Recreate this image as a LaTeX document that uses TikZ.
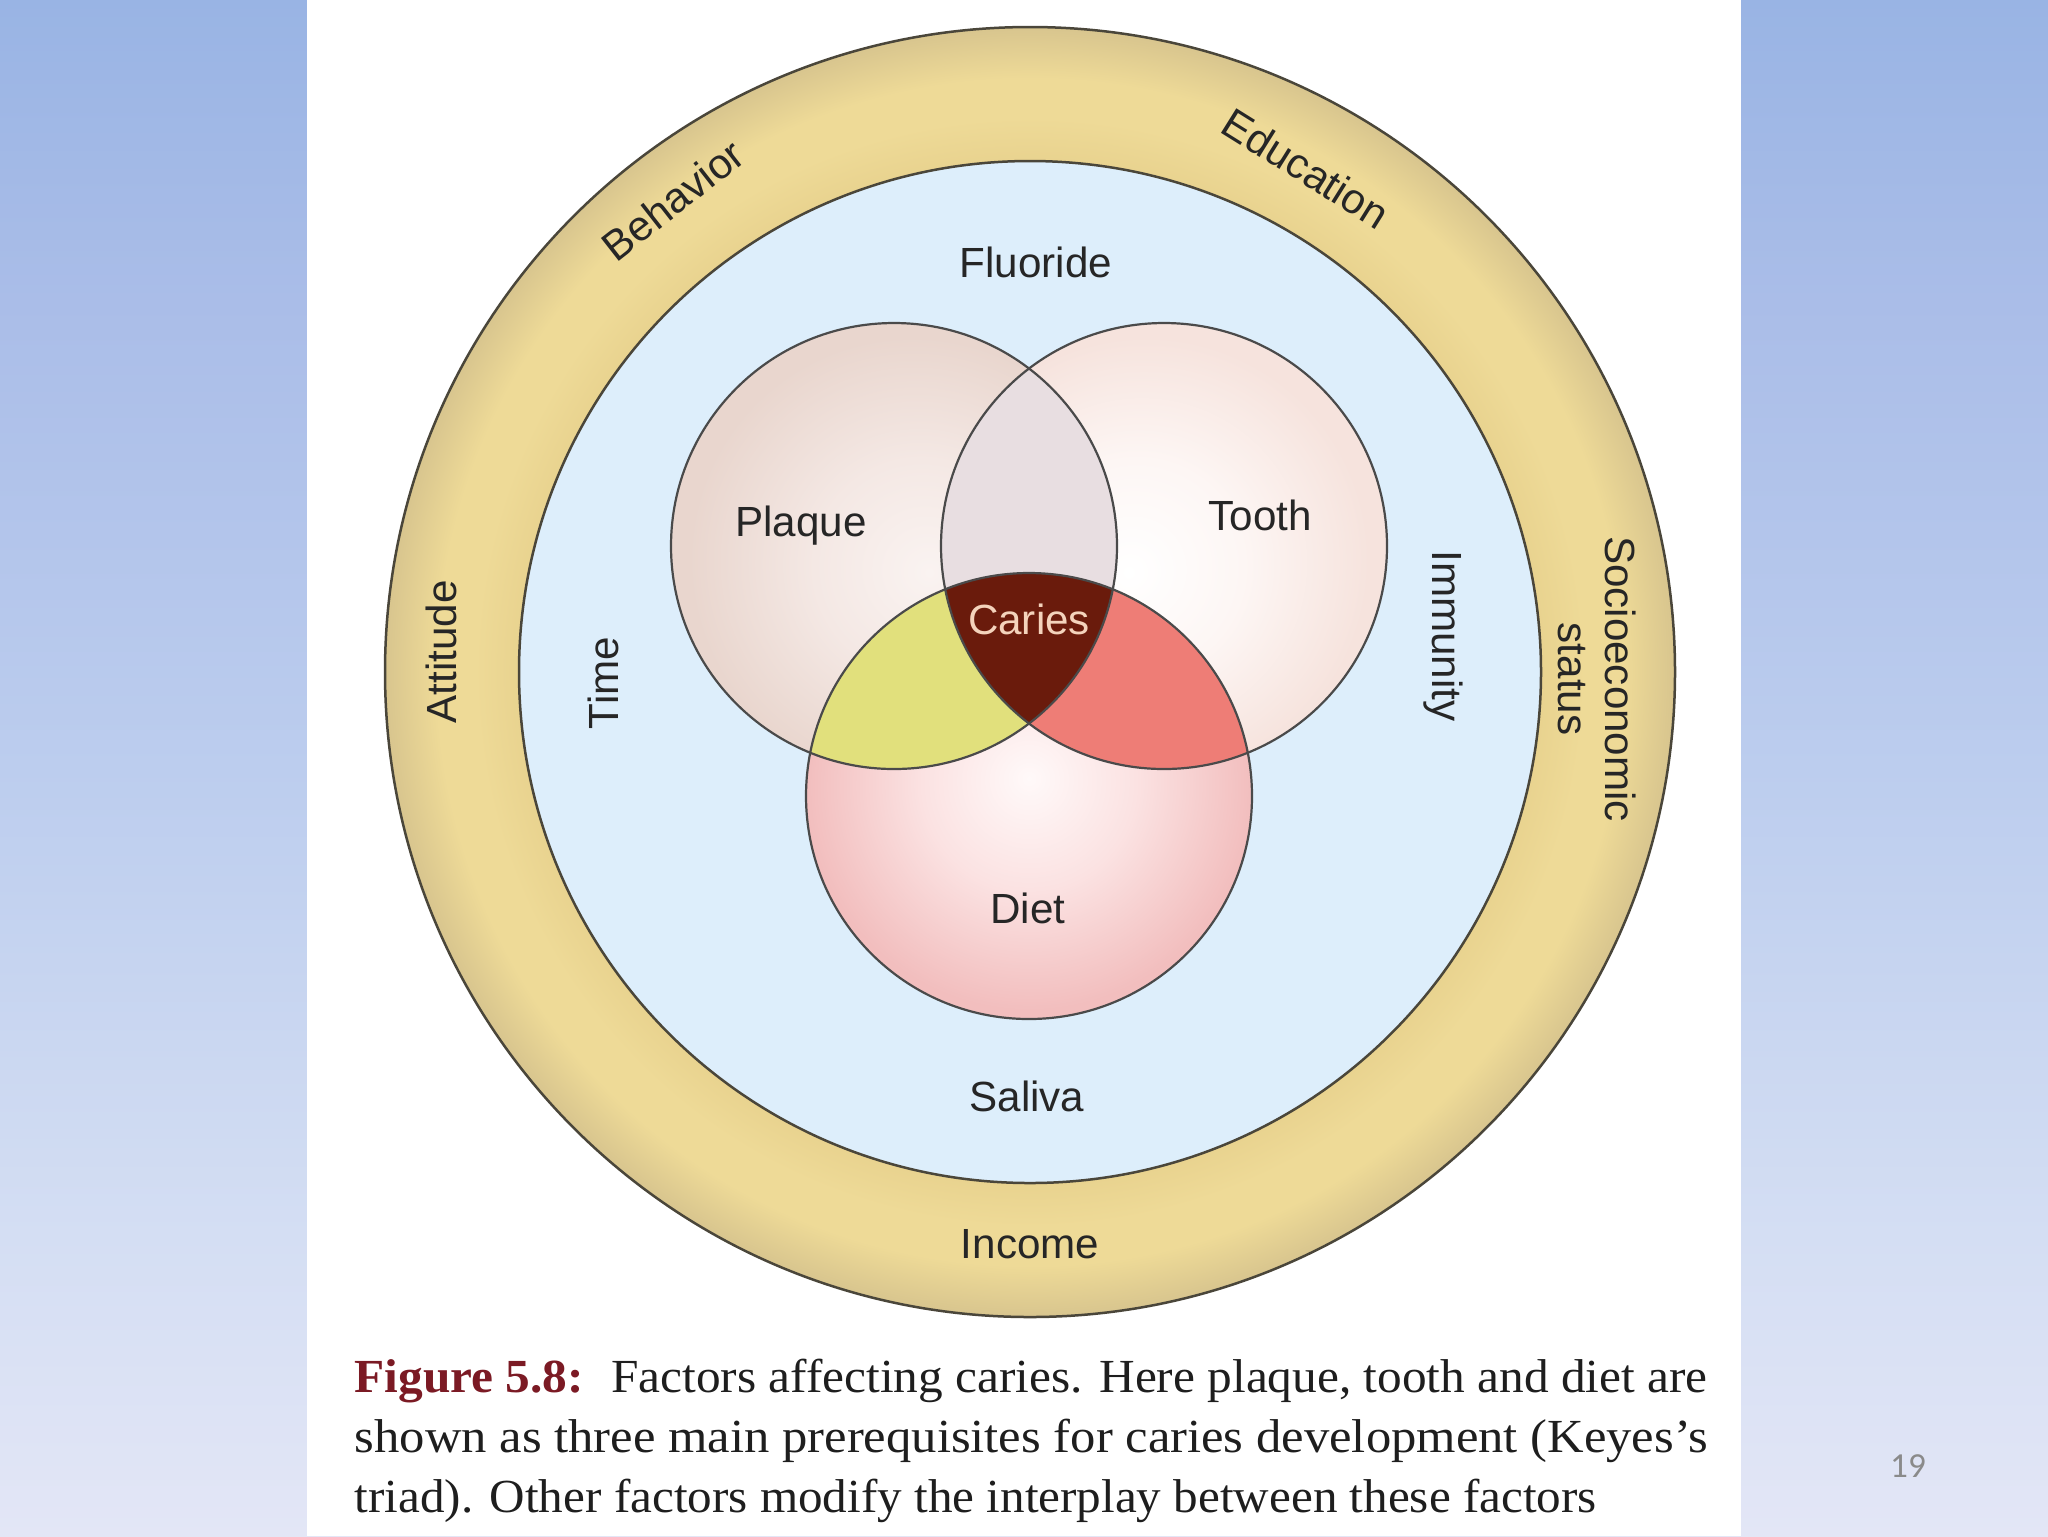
\documentclass[tikz,border=0pt]{standalone}
\usepackage{fontspec}
\usepackage{graphicx}
\setmainfont{Liberation Serif}
\newfontfamily\lsans{Liberation Sans}
\newfontfamily\pgnum{Carlito}

\definecolor{bgA}{HTML}{E3E6F6}
\definecolor{bgB}{HTML}{D4DEF3}
\definecolor{bgC}{HTML}{BCCDEE}
\definecolor{bgD}{HTML}{AABDE8}
\definecolor{bgE}{HTML}{99B4E4}
\definecolor{ringIn}{HTML}{E8D28E}
\definecolor{ringMid}{HTML}{EEDA97}
\definecolor{ringOut}{HTML}{D8C58E}
\definecolor{ringline}{HTML}{4A463A}
\definecolor{innerblue}{HTML}{DDEEFB}
\definecolor{plaqA}{HTML}{FAF3F1}
\definecolor{plaqB}{HTML}{F4E8E4}
\definecolor{plaqC}{HTML}{E9D6CE}
\definecolor{toothA}{HTML}{FFFFFF}
\definecolor{toothB}{HTML}{FDF6F4}
\definecolor{toothC}{HTML}{F6E3DD}
\definecolor{dietA}{HTML}{FFF9F9}
\definecolor{dietB}{HTML}{FBE2E2}
\definecolor{dietC}{HTML}{F2BEBE}
\definecolor{ptcol}{HTML}{E8DEE1}
\definecolor{pdcol}{HTML}{E1E07C}
\definecolor{tdcol}{HTML}{EE7D76}
\definecolor{cariescol}{HTML}{6A1B0C}
\definecolor{cariestext}{HTML}{F4D3BC}
\definecolor{vennline}{HTML}{4A4A4A}
\definecolor{labtext}{HTML}{262626}
\definecolor{figred}{HTML}{7B1A24}
\definecolor{captext}{HTML}{1E1E1E}
\definecolor{pgray}{HTML}{8A8A8A}

\pgfdeclareverticalshading{bgsh}{100bp}{color(0bp)=(bgA); color(25bp)=(bgA); color(34.8bp)=(bgB); color(50bp)=(bgC); color(65.2bp)=(bgD); color(75bp)=(bgE); color(100bp)=(bgE)}
\pgfdeclareradialshading{ringsh}{\pgfpoint{0bp}{0bp}}{color(0bp)=(ringIn); color(19.6bp)=(ringIn); color(21.5bp)=(ringMid); color(23bp)=(ringMid); color(25bp)=(ringOut); color(50bp)=(ringOut)}
\pgfdeclareradialshading{plaqsh}{\pgfpoint{4bp}{-3bp}}{color(0bp)=(plaqA); color(12bp)=(plaqB); color(25bp)=(plaqC); color(50bp)=(plaqC)}
\pgfdeclareradialshading{toothsh}{\pgfpoint{-4bp}{-3bp}}{color(0bp)=(toothA); color(12bp)=(toothB); color(25bp)=(toothC); color(50bp)=(toothC)}
\pgfdeclareradialshading{dietsh}{\pgfpoint{0bp}{2bp}}{color(0bp)=(dietA); color(12bp)=(dietB); color(25bp)=(dietC); color(50bp)=(dietC)}

\tikzset{
  lab/.style={font=\lsans\fontsize{12}{13.5}\selectfont, text=labtext, inner sep=0pt},
  vennedge/.style={draw=vennline, line width=0.22mm},
  ringedge/.style={draw=ringline, line width=0.25mm},
  capline/.style={anchor=base west, inner sep=0pt, text=captext}
}

\begin{document}
\begin{tikzpicture}[x=0.1mm, y=-0.1mm]
\useasboundingbox (0,0) rectangle (2048,1536);
% slide background and white panel
\shade[shading=bgsh] (0,0) rectangle (2048,1536);
\fill[white] (307,0) rectangle (1741,1536);

% rings
\coordinate (O) at (1030,672);
\shadedraw[shading=ringsh, ringedge] (O) circle[radius=645];
\filldraw[fill=innerblue, ringedge] (O) circle[radius=511];

% Venn circles
\coordinate (P) at (894,546);
\coordinate (T) at (1164,546);
\coordinate (D) at (1029,796);
\shade[shading=plaqsh] (P) circle[radius=223];
\shade[shading=toothsh] (T) circle[radius=223];
\shade[shading=dietsh] (D) circle[radius=223];
\begin{scope}
  \clip (P) circle[radius=223];
  \fill[ptcol] (T) circle[radius=223];
  \fill[pdcol] (D) circle[radius=223];
\end{scope}
\begin{scope}
  \clip (T) circle[radius=223];
  \fill[tdcol] (D) circle[radius=223];
  \clip (P) circle[radius=223];
  \fill[cariescol] (D) circle[radius=223];
\end{scope}
\draw[vennedge] (P) circle[radius=223];
\draw[vennedge] (T) circle[radius=223];
\draw[vennedge] (D) circle[radius=223];

% Venn labels
\node[lab, anchor=base] (plaque) at (801,536) {Plaque};
\node[lab, anchor=base] (tooth) at (1260,530) {Tooth};
\node[lab, anchor=base, text=cariestext] (caries) at (1029,634) {Caries};
\node[lab, anchor=base] (diet) at (1028,923) {Diet};

% inner ring labels
\node[lab, anchor=base] (fluoride) at (1036,277) {Fluoride};
\node[lab, anchor=base] (saliva) at (1027,1111) {Saliva};
\node[lab, rotate=90] (time) at (603,683) {Time};
\node[lab, rotate=-90] (immunity) at (1443,636) {Immunity};

% outer ring labels
\node[lab, rotate=38] (behavior) at (673,200) {Behavior};
\node[lab, rotate=-32] (education) at (1306,168) {Education};
\node[lab, rotate=90] (attitude) at (441,652) {Attitude};
\node[lab, rotate=-90, align=center] (socio) at (1597,679) {Socioeconomic\\status};
\node[lab, anchor=base] (income) at (1030,1258) {Income};

% caption
\node[capline] (cap1) at (354,1392) {\resizebox{135.3mm}{\height}{\fontsize{13.5}{16}\selectfont\textcolor{figred}{\textbf{Figure 5.8:}}\hspace{0.55em}Factors affecting caries. Here plaque, tooth and diet are}};
\node[capline] (cap2) at (354,1452) {\resizebox{135.3mm}{\height}{\fontsize{13.5}{16}\selectfont shown as three main prerequisites for caries development (Keyes’s}};
\node[capline] (cap3) at (354,1512) {\resizebox{124.2mm}{\height}{\fontsize{13.5}{16}\selectfont triad). Other factors modify the interplay between these factors}};

% slide number
\node[anchor=base, inner sep=0pt, text=pgray, font=\pgnum\fontsize{10}{12}\selectfont] (pnum) at (1908,1477) {19};
\end{tikzpicture}
\end{document}
